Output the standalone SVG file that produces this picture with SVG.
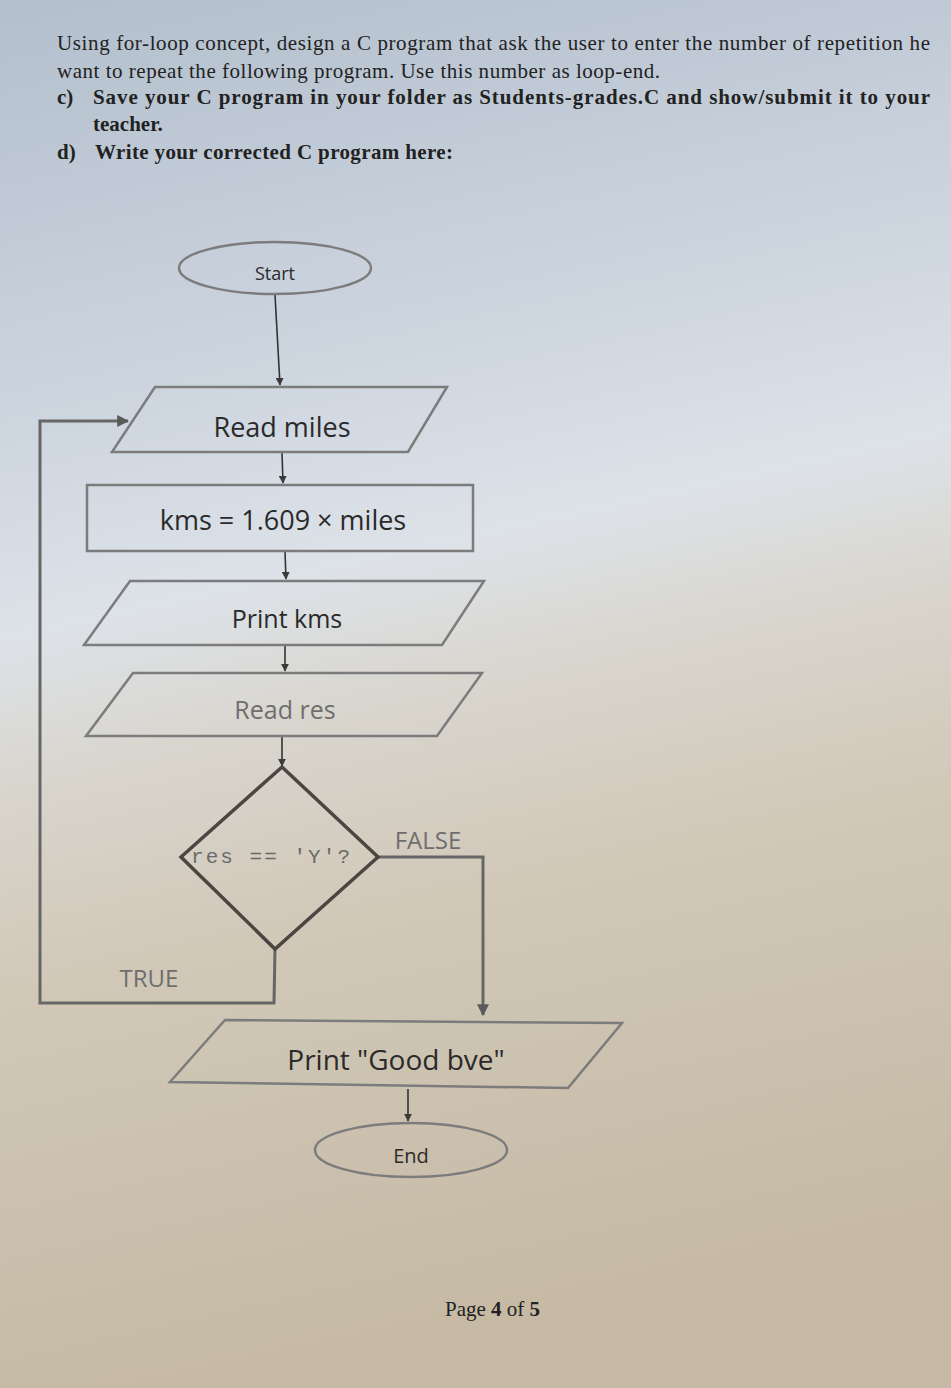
<svg xmlns="http://www.w3.org/2000/svg" width="951" height="1388" viewBox="0 0 951 1388">
<defs>
<linearGradient id="bg" x1="0" y1="0" x2="0.15" y2="1">
<stop offset="0" stop-color="#b3bfcd"/>
<stop offset="0.3" stop-color="#cdd5df"/>
<stop offset="0.45" stop-color="#dde2e8"/>
<stop offset="0.55" stop-color="#d9d6cf"/>
<stop offset="0.7" stop-color="#d1c8b8"/>
<stop offset="1" stop-color="#c6baa5"/>
</linearGradient>
<marker id="ah" viewBox="0 0 10 10" refX="9" refY="5" markerWidth="5" markerHeight="5" orient="auto" markerUnits="strokeWidth">
<path d="M0,0 L10,5 L0,10 z" fill="#3a3a3a"/>
</marker>
<marker id="ah2" viewBox="0 0 10 10" refX="9" refY="5" markerWidth="4" markerHeight="4" orient="auto" markerUnits="strokeWidth">
<path d="M0,0 L10,5 L0,10 z" fill="#5a5a5a"/>
</marker>
</defs>
<style>
.hdr{font-family:"Liberation Serif",serif;font-size:21px;fill:#222}
.b{font-weight:bold}
.shape{fill:none;stroke:#7c7c7c;stroke-width:2.5}
.lbl{font-family:"Open Sans","DejaVu Sans",sans-serif;fill:#2a2a2a;text-anchor:middle}
.gray{fill:#6e6e6e}
.conn{fill:none;stroke:#333;stroke-width:1.6}
.loop{fill:none;stroke:#666;stroke-width:3}
</style>
<rect x="0" y="0" width="951" height="1388" fill="url(#bg)"/>

<g id="header">
<text class="hdr" x="57" y="50" textLength="873" lengthAdjust="spacing">Using for-loop concept, design a C program that ask the user to enter the number of repetition he</text>
<text class="hdr" x="57" y="78" textLength="603" lengthAdjust="spacing">want to repeat the following program. Use this number as loop-end.</text>
<text class="hdr b" x="57" y="104">c)</text>
<text class="hdr b" x="93" y="104" textLength="837" lengthAdjust="spacing">Save your C program in your folder as Students-grades.C and show/submit it to your</text>
<text class="hdr b" x="93" y="131">teacher.</text>
<text class="hdr b" x="57" y="159">d)</text>
<text class="hdr b" x="95" y="159" textLength="358" lengthAdjust="spacing">Write your corrected C program here:</text>
</g>

<g id="connectors">
<line class="conn" x1="275" y1="295" x2="280" y2="385" marker-end="url(#ah)"/>
<line class="conn" x1="282" y1="453" x2="283" y2="483" marker-end="url(#ah)"/>
<line class="conn" x1="285" y1="552" x2="286" y2="579" marker-end="url(#ah)"/>
<line class="conn" x1="285" y1="646" x2="285" y2="671" marker-end="url(#ah)"/>
<line class="conn" x1="282" y1="737" x2="282" y2="766" marker-end="url(#ah)"/>
<polyline class="loop" points="378,857 483,857 483,1015" marker-end="url(#ah2)"/>
<polyline class="loop" points="275,949 274,1003 40,1003 40,421 128,421" marker-end="url(#ah2)"/>
<line class="conn" x1="408" y1="1089" x2="408" y2="1121" marker-end="url(#ah)"/>
</g>

<g id="start">
<ellipse class="shape" cx="275" cy="268" rx="96" ry="26"/>
<text class="lbl" x="275" y="280" font-size="18">Start</text>
</g>

<g id="read-miles">
<polygon class="shape" points="155,387 447,387 408,452 112,452"/>
<text class="lbl" x="282" y="437" font-size="27">Read miles</text>
</g>

<g id="compute">
<rect class="shape" x="87" y="485" width="386" height="66"/>
<text class="lbl" x="283" y="530" font-size="27">kms = 1.609 × miles</text>
</g>

<g id="print-kms">
<polygon class="shape" points="130,581 484,581 442,645 84,645"/>
<text class="lbl" x="287" y="628" font-size="25">Print kms</text>
</g>

<g id="read-res">
<polygon class="shape" points="133,673 482,673 437,736 86,736"/>
<text class="lbl gray" x="285" y="719" font-size="25">Read res</text>
</g>

<g id="decision">
<polygon points="282,767 378,857 275,949 181,857" fill="none" stroke="#4b4641" stroke-width="3.5"/>
<text x="191" y="863" font-family="'Liberation Mono',monospace" font-size="21" fill="#6a6a6a" textLength="159" lengthAdjust="spacing">res == 'Y'?</text>
<text class="lbl gray" x="428" y="849" font-size="24">FALSE</text>
<text class="lbl gray" x="149" y="987" font-size="24">TRUE</text>
</g>

<g id="print-bye">
<polygon class="shape" points="225,1020 622,1023 568,1088 170,1082"/>
<text class="lbl" x="396" y="1070" font-size="28">Print "Good bve"</text>
</g>

<g id="end">
<ellipse class="shape" cx="411" cy="1150" rx="96" ry="27"/>
<text class="lbl" x="411" y="1163" font-size="20">End</text>
</g>

<g id="footer">
<text class="hdr" x="445" y="1316" font-size="20">Page <tspan class="b">4</tspan> of <tspan class="b">5</tspan></text>
</g>
</svg>
